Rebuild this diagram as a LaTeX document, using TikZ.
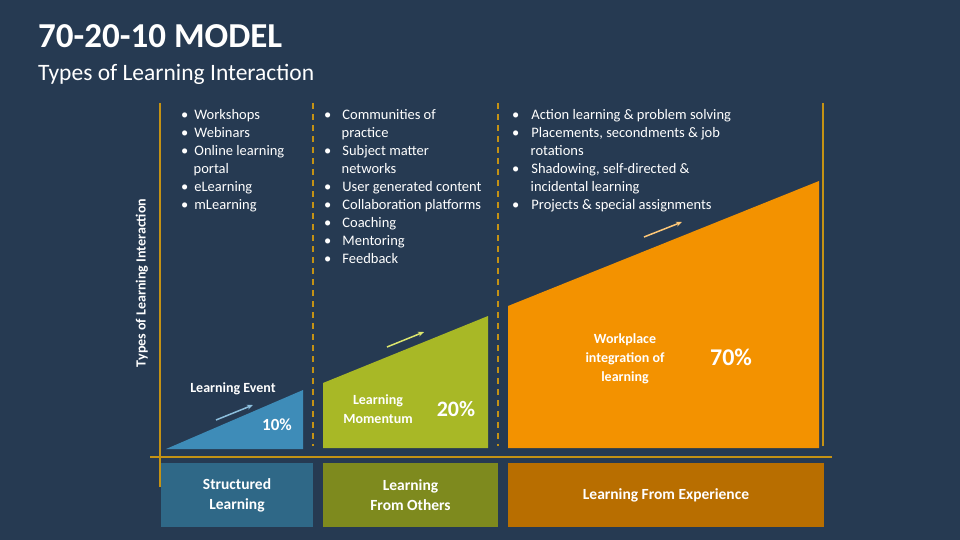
\documentclass[tikz,border=0pt]{standalone}
\usepackage{fontspec}
\setmainfont{Carlito}
\usetikzlibrary{arrows.meta}
\definecolor{bg}{RGB}{38,58,82}
\definecolor{gold}{RGB}{196,146,20}
\definecolor{cblue}{RGB}{62,140,184}
\definecolor{cgreen}{RGB}{168,184,38}
\definecolor{corange}{RGB}{243,146,0}
\definecolor{dblue}{RGB}{47,104,135}
\definecolor{dgreen}{RGB}{126,138,30}
\definecolor{dorange}{RGB}{184,110,0}
\definecolor{ablue}{RGB}{140,190,220}
\definecolor{agreen}{RGB}{220,230,110}
\definecolor{aorange}{RGB}{255,200,120}
\begin{document}
\begin{tikzpicture}[x=1pt,y=-1pt,
  axis/.style={gold,line width=1.5pt},
  dline/.style={gold,line width=1.5pt,dash pattern=on 6pt off 5pt},
  box/.style={minimum height=64pt,inner sep=0pt,text=white,font=\fontsize{15.5}{20}\selectfont\bfseries,align=center},
  lst/.style={anchor=north west,text=white,font=\fontsize{14.5}{18}\selectfont,inner sep=0pt,align=left},
  lbl/.style={text=white,font=\fontsize{14}{19}\selectfont\bfseries,align=center},
  pct/.style={text=white,font=\bfseries},
  arr/.style={-{Stealth[length=6pt,width=5pt]},line width=1.5pt}]
\fill[bg] (0,0) rectangle (960,540);
\node[anchor=west,text=white,font=\fontsize{35}{37}\selectfont\bfseries,inner sep=0pt] (t) at (38,36) {70-20-10 MODEL};
\node[anchor=west,text=white,font=\fontsize{23.5}{26}\selectfont,inner sep=0pt] (st) at (38,74) {Types of Learning Interaction};
% axes
\draw[axis] (160,103) -- (160,487);
\draw[axis] (150,457) -- (832,457);
\draw[axis] (823,103) -- (823,446);
\draw[dline] (313,103) -- (313,446);
\draw[dline] (498,103) -- (498,446);
\node[rotate=90,text=white,font=\fontsize{14}{16}\selectfont\bfseries] (yl) at (142,283) {Types of Learning Interaction};
% shapes
\fill[cblue] (166,449) -- (303,390) -- (303,449) -- cycle;
\fill[cgreen] (323,448) -- (323,383) -- (488,316) -- (488,448) -- cycle;
\fill[corange] (508,448) -- (508,306) -- (819,181) -- (819,448) -- cycle;
\coordinate (a1) at (216,420); \coordinate (a2) at (253,405);
\coordinate (b1) at (387,347); \coordinate (b2) at (424,332);
\coordinate (c1) at (644,237); \coordinate (c2) at (682,222);
\draw[arr,ablue] (a1) -- (a2);
\draw[arr,agreen] (b1) -- (b2);
\draw[arr,aorange] (c1) -- (c2);
\node[lbl] (le) at (233,389) {Learning Event};
\node[pct,font=\fontsize{17}{19}\selectfont\bfseries] (p1) at (277,425) {10\%};
\node[lbl] (lm) at (378,409) {Learning\\Momentum};
\node[pct,font=\fontsize{22}{24}\selectfont\bfseries] (p2) at (456,409) {20\%};
\node[lbl] (wi) at (625,359) {Workplace\\integration of\\learning};
\node[pct,font=\fontsize{24}{26}\selectfont\bfseries] (p3) at (731,357) {70\%};
% bottom boxes
\node[box,fill=dblue,minimum width=152pt] (b1x) at (237,495) {Structured\\Learning};
\node[box,fill=dgreen,minimum width=175pt] (b2x) at (410.5,495) {Learning\\From Others};
\node[box,fill=dorange,minimum width=316pt] (b3x) at (666,495) {Learning From Experience};
% lists
\node[lst] (l1) at (181,109) {\textbullet\hspace{6pt}Workshops\\\textbullet\hspace{6pt}Webinars\\\textbullet\hspace{6pt}Online learning\\\hspace{12.5pt}portal\\\textbullet\hspace{6pt}eLearning\\\textbullet\hspace{6pt}mLearning};
\node[lst] (l2) at (324,109) {\textbullet\hspace{11pt}Communities of\\\hspace{17.5pt}practice\\\textbullet\hspace{11pt}Subject matter\\\hspace{17.5pt}networks\\\textbullet\hspace{11pt}User generated content\\\textbullet\hspace{11pt}Collaboration platforms\\\textbullet\hspace{11pt}Coaching\\\textbullet\hspace{11pt}Mentoring\\\textbullet\hspace{11pt}Feedback};
\node[lst] (l3) at (512,109) {\textbullet\hspace{12pt}Action learning \& problem solving\\\textbullet\hspace{12pt}Placements, secondments \& job\\\hspace{18.5pt}rotations\\\textbullet\hspace{12pt}Shadowing, self-directed \&\\\hspace{18.5pt}incidental learning\\\textbullet\hspace{12pt}Projects \& special assignments};
\end{tikzpicture}
\end{document}
